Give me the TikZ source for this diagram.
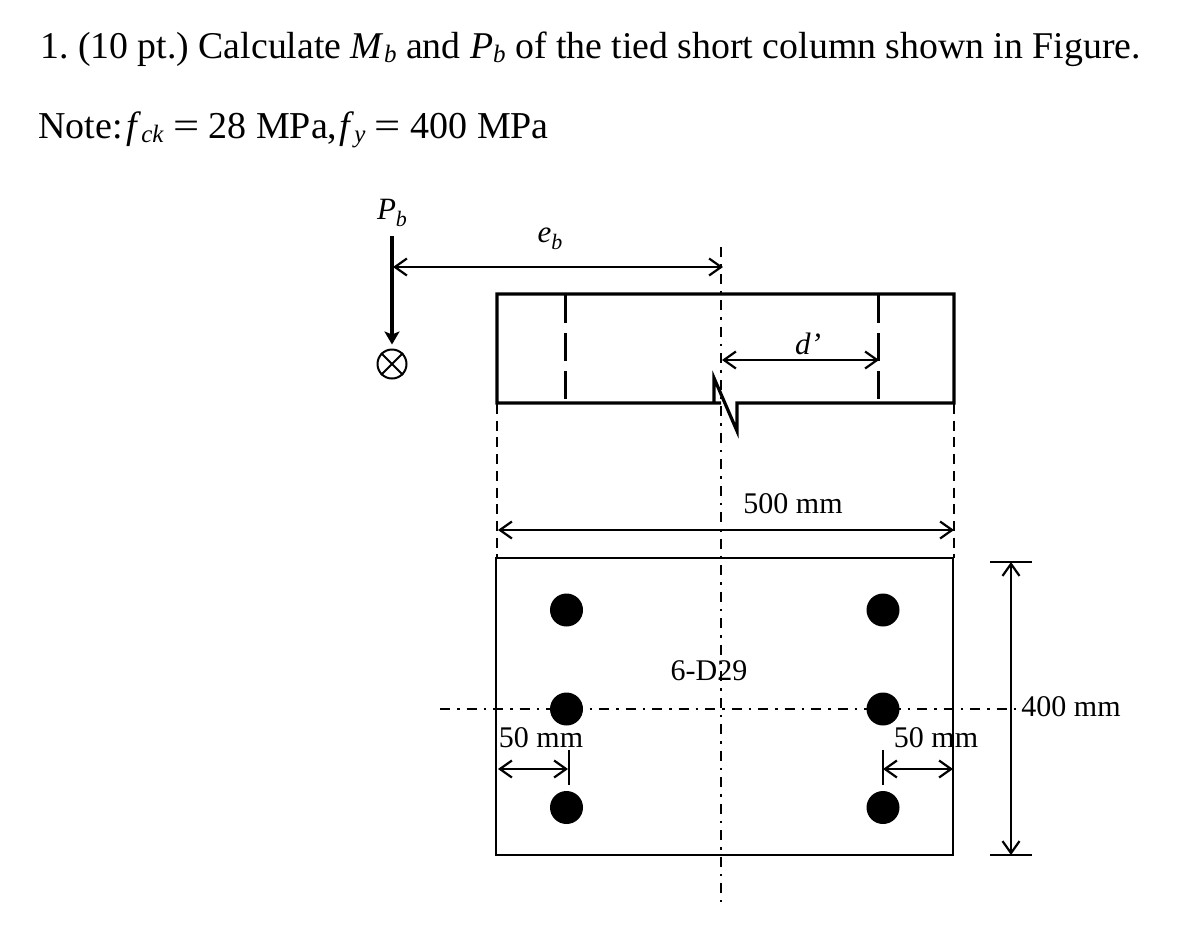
\documentclass[tikz,border=0pt]{standalone}
\usepackage{fontspec}
\setmainfont{Liberation Serif}
\usetikzlibrary{arrows.meta}
\newcommand{\subit}[1]{\raisebox{-0.12em}{\fontsize{25}{25}\selectfont\itshape #1}}
\newcommand{\subsym}[1]{\raisebox{-0.22em}{\fontsize{22}{22}\selectfont\itshape #1}}
\newcommand{\eqsign}{\scalebox{1.22}[1]{=}}
\tikzset{
	dimarrow/.style={<->, line width=2.2pt},
	outline/.style={line width=3.2pt, line join=miter},
	rebarline/.style={line width=3pt, dash pattern=on 28pt off 10pt},
	centerline/.style={line width=2pt, dash pattern=on 10pt off 7pt on 2.5pt off 7pt},
	extline/.style={line width=2.2pt, dash pattern=on 10pt off 6.7pt},
	rebar/.style={circle, fill=black, minimum size=33pt, inner sep=0pt},
	dimlabel/.style={font=\fontsize{30}{32}\selectfont, inner sep=0pt},
	symlabel/.style={font=\fontsize{31}{32}\selectfont\itshape, inner sep=0pt}
}
\begin{document}
\frenchspacing
\begin{tikzpicture}[x=1pt, y=-1pt, >={Straight Barb[length=12pt, width=17pt, line width=2.2pt]}, line cap=butt]
				\useasboundingbox (0,0) rectangle (1188,938);
				\def\xleft{497}
				\def\xright{954}
				\def\xmid{721}
				% problem text
				\node [anchor=base west, inner sep=0pt, font=\fontsize{37.8}{40}\selectfont] (title) at (40,58) {1. (10 pt.) Calculate \textit{M}\subit{b} and \textit{P}\subit{b} of the tied short column shown in Figure.};
				\node [anchor=base west, inner sep=0pt, font=\fontsize{38}{40}\selectfont] (note) at (38,138) {Note:\hspace{0.1em}\textit{f}\subit{ck} \eqsign{} 28 MPa,\hspace{0.05em}\textit{f}\subit{y} \eqsign{} 400 MPa};
				% center lines
				\draw [centerline] (\xmid,247)--(\xmid,902);
				\draw [centerline] (440,709)--(1017,709);
				\draw [extline] (\xleft,404)--(\xleft,558) (\xright,404)--(\xright,558);
				% elevation
				\draw [outline] (\xmid,403) -- (714,403) -- (714,378) -- (737,431) -- (737,403) -- (\xright,403) -- (\xright,294) -- (\xleft,294) -- (\xleft,403) -- (714,403);
				\draw [rebarline] (565,295)--(565,403);
				\draw [rebarline] (878,295)--(878,403);
				% load
				\coordinate (loadtop) at (392,236);
				\node [circle, draw, line width=2pt, minimum size=29pt, inner sep=0pt] (ring) at (392,364) {};
				\draw [line width=2pt] (ring.north west)--(ring.south east) (ring.north east)--(ring.south west);
				\draw [->, line width=4pt, shorten >=4pt, >={Stealth[length=13pt, width=15pt, inset=3pt]}] (loadtop)--(ring.north);
				\node [symlabel] (pb) at (392,213) {P\subsym{b}};
				\node [symlabel] (eb) at (550,239) {e\subsym{b}};
				\coordinate (ebleft) at (393,267);
				\coordinate (ebright) at (723,267);
				\draw [dimarrow] (ebleft)--(ebright);
				\node [symlabel] (dprime) at (808,344) {d’};
				\coordinate (dleft) at (722,360);
				\coordinate (dright) at (879,360);
				\draw [dimarrow] (dleft)--(dright);
				% section
				\draw [line width=2.4pt] (496,558) rectangle (953,855);
				\foreach \px/\nx in {566.5/l, 883/r}
				\foreach \py/\ny in {610/t, 709/m, 807.5/b}
				\node [rebar] (bar\nx\ny) at (\px,\py) {};
				\node [dimlabel, fill=none] (barlabel) at (709,671) {6-D29};
				% dimensions
				\node [dimlabel] (width) at (793,504) {500 mm};
				\coordinate (wleft) at (498,530);
				\coordinate (wright) at (954,530);
				\draw [dimarrow] (wleft)--(wright);
				\node [dimlabel] (height) at (1071,707) {400 mm};
				\coordinate (htop) at (1011,562);
				\coordinate (hbot) at (1011,855);
				\draw [line width=2.2pt] (990,562)--(1032,562) (990,855)--(1032,855);
				\draw [dimarrow] (htop)--(hbot);
				\node [dimlabel] (coverl) at (541,738) {50 mm};
				\coordinate (clleft) at (498,769);
				\coordinate (clright) at (568,769);
				\draw [line width=2.2pt] (569,750)--(569,785);
				\draw [dimarrow] (clleft)--(clright);
				\node [dimlabel] (coverr) at (936,738) {50 mm};
				\coordinate (crleft) at (883,769);
				\coordinate (crright) at (953,769);
				\draw [line width=2.2pt] (883,750)--(883,785);
				\draw [dimarrow] (crleft)--(crright);
			\end{tikzpicture}
\end{document}
